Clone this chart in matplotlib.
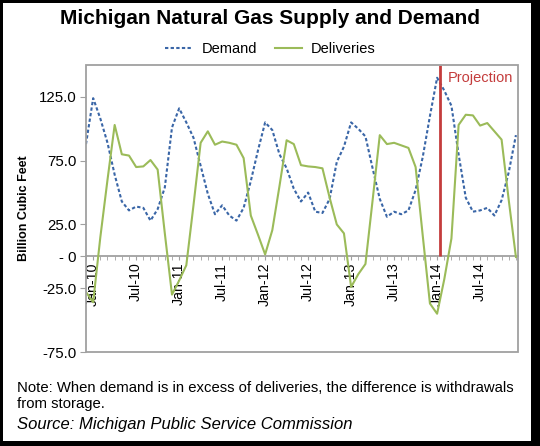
import numpy as np
import pandas as pd
import matplotlib
matplotlib.use("Agg")
import matplotlib.pyplot as plt
from matplotlib.patches import Rectangle

plt.rcParams['font.family'] = ['Liberation Sans', 'DejaVu Sans']

# monthly categories, Dec-09 .. Dec-14
months = pd.date_range("2009-12-01", "2014-12-01", freq="MS").strftime("%b-%y").tolist()

# Billion cubic feet
demand = [88,
          124, 108, 89, 64, 43, 36, 39, 38, 28, 37, 54, 101,
          116, 105, 93, 71, 49, 33, 40, 32, 28, 38, 59, 83,
          105, 99, 80, 69, 53, 43, 50, 35, 34, 45, 74, 86,
          105, 100, 94, 69, 45, 31, 35, 33, 36, 52, 78, 110,
          140, 130, 118, 80, 46, 35, 36, 38, 32, 44, 66, 95]
deliveries = [-28,
              -36, 15, 60, 103, 80, 79, 70, 70.5, 75.5, 68, 18, -30,
              -19, -7, 40, 89, 98, 87.5, 90, 89, 87.5, 77, 32, 17,
              1.5, 20.5, 55, 91, 88, 71.5, 70.5, 70, 69, 46, 25, 18,
              -24, -14, -6, 44, 95, 88, 89, 87, 85, 70, 16, -37,
              -45, -18, 14, 103, 111, 110.5, 102.5, 104.5, 98, 91.5, 44, -0.5]

y_ticks = [-75, -25, 0, 25, 75, 125]
y_tick_labels = ["-75.0", "-25.0", "- 0", "25.0", "75.0", "125.0"]
projection_month = "Jan-14"

blue = "#3A66A7"
green = "#9BBB59"
red = "#C43C3C"
gray = "#A0A0A0"

x = np.arange(len(months))

fig = plt.figure(figsize=(5.4, 4.46), dpi=100, facecolor="black")
# white card inside the black border
fig.patches.append(Rectangle((3 / 540, 1 - 441 / 446), 528 / 540, 438 / 446,
                             transform=fig.transFigure, facecolor="white",
                             edgecolor="none", zorder=-10))

ax = fig.add_axes([86 / 540, 1 - 352 / 446, 432 / 540, 287 / 446])

ax.plot(x, demand, color=blue, lw=1.5, dashes=(1.6, 1.1), label="Demand", zorder=3)
ax.plot(x, deliveries, color=green, lw=1.5, label="Deliveries", zorder=3)

# projection marker
px = months.index(projection_month) + 0.42
ax.vlines(px, 0, 150, color=red, lw=2, zorder=4)
ax.text(px + 1.05, 139.5, "Projection", color=red, fontsize=10.5,
        ha="left", va="center")

ax.set_xlim(0.54, 60.29)
ax.set_ylim(-75, 150)

# frame around plot area
ax.add_patch(Rectangle((0, 0), 1, 1, transform=ax.transAxes, fill=False,
                       edgecolor=gray, lw=1.3, clip_on=False, zorder=5))
for s in ["top", "right", "left"]:
    ax.spines[s].set_visible(False)
ax.spines["bottom"].set_position(("data", 0))
ax.spines["bottom"].set_color(gray)
ax.spines["bottom"].set_linewidth(1.3)

major = [i for i, m in enumerate(months) if m[:3] in ("Jan", "Jul")]
ax.set_xticks(x, minor=True)
ax.set_xticks(major, [months[i] for i in major], rotation=90)
ax.tick_params(axis="x", which="both", direction="out", length=3,
               color=gray, labelsize=10.2, pad=1.5)
ax.set_yticks(y_ticks, y_tick_labels)
ax.tick_params(axis="y", direction="out", length=4, color=gray,
               labelsize=10.8, pad=3)

fig.text(24 / 540, 1 - 208 / 446, "Billion Cubic Feet", rotation=90,
         ha="center", va="center", fontsize=9, fontweight="bold")

fig.text(0.5, 1 - 18 / 446, "Michigan Natural Gas Supply and Demand",
         ha="center", va="center", fontsize=15, fontweight="bold")

ax.legend(loc="center", bbox_to_anchor=(270.5 / 540, 1 - 49 / 446),
          bbox_transform=fig.transFigure, ncol=2, frameon=False,
          fontsize=10.5, handlelength=1.9, handletextpad=0.6,
          columnspacing=1.2)

fig.text(17 / 540, 1 - 396 / 446,
         "Note: When demand is in excess of deliveries, the difference is withdrawals\nfrom storage.",
         ha="left", va="center", fontsize=10.75, linespacing=1.15)
fig.text(17 / 540, 1 - 425 / 446, "Source: Michigan Public Service Commission",
         ha="left", va="center", fontsize=12, style="italic")

fig.savefig("out.png", dpi=100, facecolor=fig.get_facecolor())
